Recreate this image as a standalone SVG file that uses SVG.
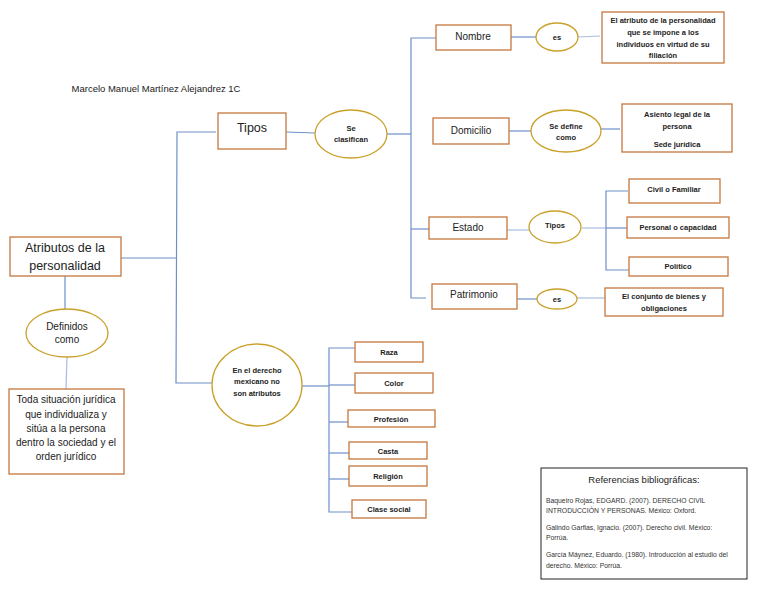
<svg xmlns="http://www.w3.org/2000/svg" width="768" height="594" viewBox="0 0 768 594">
<style>
.b{fill:#fff;stroke:#c5773f;stroke-width:1.3}
.e{fill:#fff;stroke:#c9a12a;stroke-width:1.3}
.r{fill:#fff;stroke:#222;stroke-width:1}
.c{fill:none;stroke:#6f8fca;stroke-width:1.2}
.cl{fill:none;stroke:#a9bde0;stroke-width:1.2}
text{font-family:"Liberation Sans",Arial,sans-serif;fill:#222;text-anchor:middle}
.m{font-size:12.5px}
.n{font-size:10px}
.s{font-size:7.5px;font-weight:bold}
.t{font-size:9.5px}
.d{font-size:10px}
.ref{font-size:6.8px;text-anchor:start;fill:#333}
</style>
<rect width="768" height="594" fill="#fff"/>
<text class="t" x="156" y="92">Marcelo Manuel Martínez Alejandrez 1C</text>
<g id="connectors">
<polyline class="c" points="121,258 177,258"/>
<polyline class="c" points="216,132 177,132 176,383 212,383"/>
<polyline class="c" points="286,132 315,133"/>
<polyline class="c" points="387,134 411,134"/>
<polyline class="c" points="437,38 411,38 411,298 426,298"/>
<polyline class="c" points="411,229 429,229"/>
<polyline class="c" points="511,37 536,37"/>
<polyline class="cl" points="578,37 600,36"/>
<polyline class="c" points="509,131 531,131"/>
<polyline class="c" points="601,129 620,129"/>
<polyline class="cl" points="507,230 529,230"/>
<polyline class="cl" points="582,228 606,228"/>
<polyline class="c" points="628,191 606,191 606,270 629,270"/>
<polyline class="c" points="606,228 627,228"/>
<polyline class="c" points="517,299 537,299"/>
<polyline class="cl" points="577,298 605,298"/>
<polyline class="c" points="65,276 65,309"/>
<polyline class="cl" points="67,357 66,389"/>
<polyline class="c" points="302,386 329,386"/>
<polyline class="c" points="355,348 329,348 329,512 352,512"/>
<polyline class="c" points="329,385 355,385"/>
<polyline class="c" points="329,422 348,422"/>
<polyline class="c" points="329,453 349,453"/>
<polyline class="c" points="329,479 349,479"/>
</g>
<g id="atributos"><rect class="b" x="10" y="237" width="111" height="39"/><text class="m" x="65" y="252">Atributos de la</text><text class="m" x="65" y="270">personalidad</text></g>
<g id="tipos"><rect class="b" x="218" y="113" width="68" height="36"/><text class="m" x="252" y="132">Tipos</text></g>
<g id="se-clasifican"><ellipse class="e" cx="351" cy="134" rx="36" ry="24"/><text class="s" x="351" y="131">Se</text><text class="s" x="351" y="142">clasifican</text></g>
<g id="nombre"><rect class="b" x="436" y="25" width="75" height="25"/><text class="n" x="473" y="40">Nombre</text></g>
<g id="es1"><ellipse class="e" cx="557" cy="37" rx="21" ry="14"/><text class="s" x="557" y="40">es</text></g>
<g id="nombre-def"><rect class="b" x="602" y="12" width="122" height="51"/><text class="s" x="663" y="23">El atributo de la personalidad</text><text class="s" x="663" y="35">que se impone a los</text><text class="s" x="663" y="47">individuos en virtud de su</text><text class="s" x="663" y="58">filiación</text></g>
<g id="domicilio"><rect class="b" x="433" y="118" width="76" height="26"/><text class="n" x="471" y="134">Domicilio</text></g>
<g id="se-define"><ellipse class="e" cx="566" cy="131" rx="35" ry="21"/><text class="s" x="566" y="129">Se define</text><text class="s" x="566" y="140">como</text></g>
<g id="domicilio-def"><rect class="b" x="622" y="104" width="110" height="48"/><text class="s" x="677" y="117">Asiento legal de la</text><text class="s" x="677" y="129">persona</text><text class="s" x="677" y="147">Sede jurídica</text></g>
<g id="estado"><rect class="b" x="429" y="217" width="78" height="22"/><text class="n" x="468" y="231">Estado</text></g>
<g id="tipos2"><ellipse class="e" cx="555" cy="227" rx="26" ry="16"/><text class="s" x="555" y="228">Tipos</text></g>
<g id="civil"><rect class="b" x="629" y="179" width="91" height="24"/><text class="s" x="674" y="192">Civil o Familiar</text></g>
<g id="personal"><rect class="b" x="627" y="217" width="102" height="21"/><text class="s" x="678" y="230">Personal o capacidad</text></g>
<g id="politico"><rect class="b" x="629" y="257" width="99" height="19"/><text class="s" x="678" y="269">Político</text></g>
<g id="patrimonio"><rect class="b" x="432" y="284" width="85" height="25"/><text class="n" x="474" y="298">Patrimonio</text></g>
<g id="es2"><ellipse class="e" cx="557" cy="299" rx="20" ry="10"/><text class="s" x="557" y="302">es</text></g>
<g id="patrimonio-def"><rect class="b" x="605" y="288" width="118" height="28"/><text class="s" x="664" y="299">El conjunto de bienes y</text><text class="s" x="664" y="311">obligaciones</text></g>
<g id="definidos"><ellipse class="e" cx="67" cy="333" rx="41" ry="24"/><text class="d" x="67" y="330">Definidos</text><text class="d" x="67" y="343">como</text></g>
<g id="definicion"><rect class="b" x="9" y="389" width="115" height="85"/><text class="d" x="66" y="403">Toda situación jurídica</text><text class="d" x="66" y="418">que individualiza y</text><text class="d" x="66" y="432">sitúa a la persona</text><text class="d" x="66" y="446">dentro la sociedad y el</text><text class="d" x="66" y="460">orden jurídico</text></g>
<g id="no-atributos"><ellipse class="e" cx="257" cy="385" rx="45" ry="41"/><text class="s" x="257" y="373">En el derecho</text><text class="s" x="257" y="384">mexicano no</text><text class="s" x="257" y="396">son atributos</text></g>
<g id="raza"><rect class="b" x="355" y="342" width="68" height="20"/><text class="s" x="389" y="355">Raza</text></g>
<g id="color"><rect class="b" x="355" y="373" width="78" height="20"/><text class="s" x="394" y="386">Color</text></g>
<g id="profesion"><rect class="b" x="348" y="410" width="87" height="17"/><text class="s" x="391" y="422">Profesión</text></g>
<g id="casta"><rect class="b" x="349" y="442" width="78" height="17"/><text class="s" x="388" y="454">Casta</text></g>
<g id="religion"><rect class="b" x="349" y="466" width="78" height="20"/><text class="s" x="388" y="479">Religión</text></g>
<g id="clase-social"><rect class="b" x="352" y="500" width="74" height="18"/><text class="s" x="389" y="512">Clase social</text></g>
<g id="referencias"><rect class="r" x="541" y="468" width="206" height="111"/><text x="644" y="483" style="font-size:9.5px">Referencias bibliográficas:</text>
<text class="ref" x="546" y="503">Baqueiro Rojas, EDGARD. (2007). DERECHO CIVIL</text>
<text class="ref" x="546" y="513">INTRODUCCIÓN Y PERSONAS. México: Oxford.</text>
<text class="ref" x="546" y="530">Galindo Garfias, Ignacio. (2007). Derecho civil. México:</text>
<text class="ref" x="546" y="540">Porrúa.</text>
<text class="ref" x="546" y="557">García Máynez, Eduardo. (1980). Introducción al estudio del</text>
<text class="ref" x="546" y="568">derecho. México: Porrúa.</text></g>
</svg>
